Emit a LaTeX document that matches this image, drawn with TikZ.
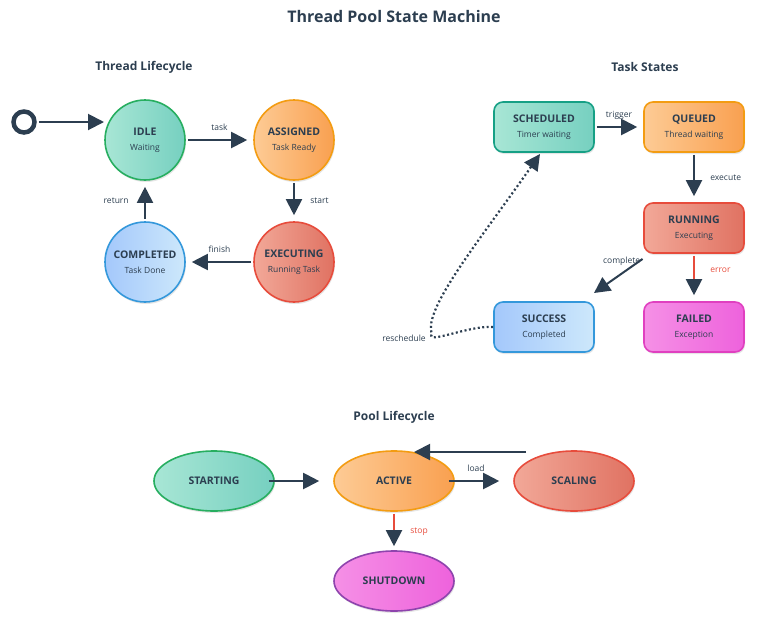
\documentclass[tikz,border=0pt]{standalone}
\usepackage{fontspec}
\setmainfont{Open Sans}
\usetikzlibrary{arrows.meta,shapes.geometric,shadows}
\definecolor{ink}{HTML}{2C3E50}
\definecolor{gS}{HTML}{27AE60}\definecolor{gA}{HTML}{A8E6D5}\definecolor{gB}{HTML}{76D0C0}
\definecolor{tS}{HTML}{16A085}
\definecolor{oS}{HTML}{F39C12}\definecolor{oA}{HTML}{FDCB95}\definecolor{oB}{HTML}{F9A050}
\definecolor{rS}{HTML}{E74C3C}\definecolor{rA}{HTML}{F2A898}\definecolor{rB}{HTML}{E07262}
\definecolor{bS}{HTML}{3498DB}\definecolor{bA}{HTML}{A4C8FB}\definecolor{bB}{HTML}{CDE8FB}
\definecolor{pS}{HTML}{E040C0}\definecolor{pA}{HTML}{F590E6}\definecolor{pB}{HTML}{EE62DC}
\definecolor{vS}{HTML}{8E44AD}
\begin{document}
\begin{tikzpicture}[x=1pt,y=-1pt,
  every node/.style={text=ink},
  st/.style={line width=1.6pt,drop shadow={opacity=0.2,shadow xshift=1pt,shadow yshift=-2pt},align=center,inner sep=0pt},
  circ/.style={st,circle,minimum size=80pt},
  box/.style={st,rounded corners=9pt,minimum width=100pt,minimum height=50pt},
  ell/.style={st,ellipse,minimum width=120pt,minimum height=60pt},
  G/.style={draw=gS,left color=gA,right color=gB},
  T/.style={draw=tS,left color=gA,right color=gB},
  O/.style={draw=oS,left color=oA,right color=oB},
  R/.style={draw=rS,left color=rA,right color=rB},
  B/.style={draw=bS,left color=bA,right color=bB},
  P/.style={draw=pS,left color=pA,right color=pB},
  V/.style={draw=vS,left color=pA,right color=pB},
  ar/.style={draw=ink,line width=2pt,shorten >=6pt,shorten <=2pt,-{Triangle[length=16pt,width=16pt]}},
  rar/.style={ar,draw=rS,-{Triangle[length=16pt,width=16pt,color=ink]}},
  lb/.style={font=\fontsize{8.5}{10}\selectfont,text=ink},
  rlb/.style={font=\fontsize{8.5}{10}\selectfont,text=rS},
  ttl/.style={font=\bfseries\fontsize{12}{14}\selectfont}]
\useasboundingbox (0,0) rectangle (758,625);
\newcommand\lbl[2]{{\bfseries\fontsize{10.5}{12}\selectfont #1}\\[3pt]{\fontsize{8.5}{10}\selectfont #2}}
\node[font=\bfseries\fontsize{16}{18}\selectfont] (title) at (394,16) {Thread Pool State Machine};
\node[ttl] (t1) at (144,67) {Thread Lifecycle};
\node[ttl] (t2) at (645,67) {Task States};
\node[ttl] (t3) at (394,417) {Pool Lifecycle};
% thread lifecycle
\node[circle,draw=ink,line width=4.5pt,minimum size=21pt,inner sep=0pt] (init) at (24,122) {};
\node[circ,G] (idle) at (145,140) {\lbl{IDLE}{Waiting}};
\node[circ,O] (asg) at (294,140) {\lbl{ASSIGNED}{Task Ready}};
\node[circ,R] (exe) at (294,262) {\lbl{EXECUTING}{Running Task}};
\node[circ,B] (cmp) at (145,262) {\lbl{COMPLETED}{Task Done}};
\coordinate (ie) at (104,122);
\draw[ar,shorten >=0pt] (init) -- (ie);
\draw[ar] (idle.east) -- (asg.west) node[lb,midway,above=5pt] {task};
\draw[ar] (asg.south) -- (exe.north) node[lb,midway,right=12pt] {start};
\draw[ar] (exe.west) -- (cmp.east) node[lb,midway,above=5pt] {finish};
\draw[ar] (cmp.north) -- (idle.south) node[lb,midway,left=12pt] {return};
% task states
\node[box,T] (sch) at (544,127) {\lbl{SCHEDULED}{Timer waiting}};
\node[box,O] (que) at (694,127) {\lbl{QUEUED}{Thread waiting}};
\node[box,R] (run) at (694,228) {\lbl{RUNNING}{Executing}};
\node[box,B] (suc) at (544,327) {\lbl{SUCCESS}{Completed}};
\node[box,P] (fal) at (694,327) {\lbl{FAILED}{Exception}};
\coordinate (ce) at (594,293);
\draw[ar] (sch.east) -- (que.west) node[lb,midway,above=3pt] {trigger};
\draw[ar] (que.south) -- (run.north) node[lb,midway,right=12pt] {execute};
\draw[ar,shorten >=0pt] ([xshift=1pt,yshift=-4pt]run.south west) -- (ce) node[lb,pos=0.45,above=4pt] {complete};
\draw[rar] (run.south) -- (fal.north) node[rlb,pos=0.35,right=12pt] {error};
\coordinate (rs) at (432,334);
\coordinate (re) at (540,154);
\draw[draw=ink,line width=2.2pt,dash pattern=on 2pt off 2.5pt,-{Triangle[length=16pt,width=16pt]}] (suc.west) .. controls (470,325) and (425,345) .. (rs) .. controls (422,310) and (480,240) .. (re);
\node[lb] (rsl) at (404,338) {reschedule};
% pool
\newcommand\ptx[1]{{\bfseries\fontsize{10.5}{12}\selectfont #1}}
\node[ell,G] (sta) at (214,481) {\ptx{STARTING}};
\node[ell,O] (act) at (394,481) {\ptx{ACTIVE}};
\node[ell,R] (scl) at (574,481) {\ptx{SCALING}};
\node[ell,V] (shd) at (394,581) {\ptx{SHUTDOWN}};
\draw[ar] ([xshift=-8pt]sta.east) -- ([xshift=-8pt]act.west);
\draw[ar] ([xshift=-8pt]act.east) -- ([xshift=-8pt]scl.west) node[lb,midway,above=5pt] {load};
\coordinate (sc) at (528,452);
\coordinate (sa) at (414,452);
\draw[ar,shorten >=0pt] (sc) -- (sa);
\draw[rar] (act.south) -- ([yshift=-2pt]shd.north) node[rlb,midway,right=12pt] {stop};
\end{tikzpicture}
\end{document}
